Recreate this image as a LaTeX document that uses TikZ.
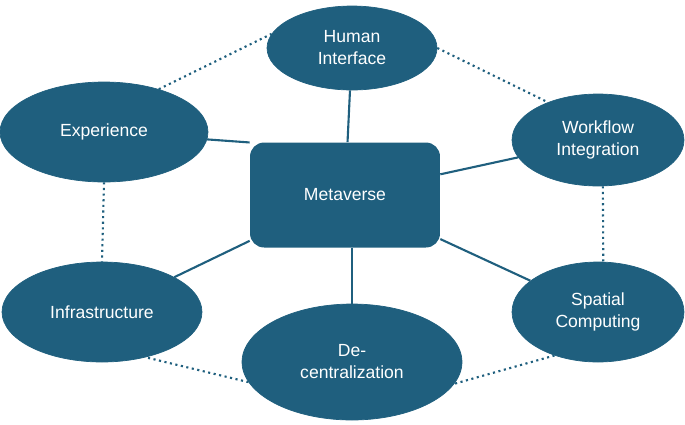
\documentclass[tikz,border=0pt]{standalone}
\usepackage{fontspec}
\setmainfont{Liberation Sans}
\usetikzlibrary{shapes.geometric}
\definecolor{teal}{HTML}{1F5F7E}
\begin{document}
\begin{tikzpicture}[x=0.02cm,y=-0.02cm,
  el/.style={ellipse,fill=teal,draw=teal,inner sep=0pt,text=white,align=center,font=\fontsize{10}{12.5}\selectfont},
  link/.style={draw=teal,line width=1.2pt},
  dot/.style={draw=teal,line width=1.2pt,dotted}]
\useasboundingbox (0,0) rectangle (685,424);
\node[el,minimum width=3.4cm,minimum height=1.68cm] (hum) at (352,48) {Human\\Interface};
\node[el,minimum width=4.16cm,minimum height=2.0cm] (exp) at (104,132) {Experience};
\node[el,minimum width=3.44cm,minimum height=1.84cm] (wf) at (598,140) {Workflow\\Integration};
\node[el,minimum width=4.0cm,minimum height=2.0cm] (inf) at (102,312) {Infrastructure};
\node[el,minimum width=3.44cm,minimum height=2.0cm] (sp) at (598,312) {Spatial\\Computing};
\node[el,minimum width=4.4cm,minimum height=2.32cm] (dec) at (352,362) {De-\\centralization};
\node[rectangle,rounded corners=8pt,fill=teal,text=white,inner sep=0pt,minimum width=3.8cm,minimum height=2.1cm,font=\fontsize{10}{12.5}\selectfont] (met) at (345,195) {Metaverse};
\draw[link] (met) -- (hum);
\draw[link] (met.north west) ++(0,0.3) -- (exp);
\draw[link] (met) -- (wf);
\draw[link] (met) -- (inf);
\draw[link] (met) -- (sp);
\draw[link] (met.south -| dec) -- (dec);
\draw[dot] (exp.38) -- (hum.170);
\draw[dot] (hum.0) -- (wf.143);
\draw[dot] (wf.-84) -- (sp.84);
\draw[dot] (sp.225) -- (dec.-12);
\draw[dot] (dec.191) -- (inf.314);
\draw[dot] (exp.south) -- (inf.north);
\end{tikzpicture}
\end{document}
